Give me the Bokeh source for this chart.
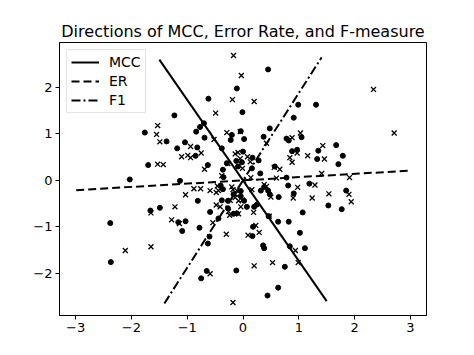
from bokeh.plotting import figure
from bokeh.models import Range1d, FixedTicker, Legend, LegendItem
from bokeh.embed import file_html
from bokeh.resources import INLINE

# ---- data ----
dots_x = [-1.23, -1.76, -1.37, -1.18, -1.70, -2.03, -1.13, 0.45, -0.11, -0.62,
          -0.01, 1.31, 0.99, 0.91, -0.70, -0.77, -0.84, 0.48, 0.37, -0.20,
          -0.69, -0.22, 0.02, 0.78, 0.82, 1.05, -1.04, -0.82, -0.85, -0.38,
          0.00, 0.17, 0.88, 0.97, 1.35, 1.67, 1.33, 1.79, 1.71, -0.12,
          -0.02, 0.28, -0.29, -0.63, 0.57, 0.16, 0.31, 0.78, -0.35, -0.09,
          0.81, 1.19, 0.32, 0.45, 1.85, 1.53, 1.77, 0.64, 0.91, 1.07,
          0.20, 0.25, 0.63, 0.82, 0.18, 0.17, 1.02, 0.36, 0.38, 0.84,
          1.11, 0.75, 0.63, 0.44, 0.02, -0.36, -0.81, -0.27, -0.38, -0.17,
          -0.11, -0.59, 0.46, -1.03, -1.09, -0.78, -0.60, -0.63, -0.12, -0.65,
          -0.75, -1.49, -1.66, -2.38, -2.37, -1.16, 0.07, -0.44, -0.04, -0.04,
          0.38, 0.48, -0.40, -0.17, -0.27, -0.04, -0.36]
dots_y = [1.40, 1.03, 0.84, 0.69, 0.33, 0.02, -0.01, 2.39, 1.98, 1.76,
          1.47, 1.63, 1.63, 1.35, 1.23, 1.15, 1.05, 1.12, 0.94, 0.98,
          0.92, 0.87, 0.89, 0.90, 0.86, 0.93, 0.82, 0.71, 0.53, 0.69,
          0.62, 0.49, 0.63, 0.66, 0.64, 0.76, 0.46, 0.53, 0.35, 0.42,
          0.39, 0.43, 0.37, 0.33, 0.30, 0.26, 0.15, 0.06, 0.07, 0.30,
          -0.11, -0.07, -0.22, -0.22, -0.22, -0.54, -0.62, -0.36, -0.28, -0.69,
          -0.57, -0.52, -0.89, -0.89, -1.00, -1.20, -1.13, -1.40, -1.46, -1.42,
          -1.46, -1.86, -2.31, -2.48, -0.44, -0.19, -0.44, -0.44, -0.43, -0.72,
          -0.71, -0.68, -0.77, -0.88, -1.09, -1.02, -1.21, -1.36, -1.94, -1.95,
          -2.11, -0.59, -0.65, -0.92, -1.76, -0.90, -0.57, -0.82, -0.23, -0.34,
          -0.14, -0.30, -0.11, -0.30, -0.60, 1.06, 0.23]

cross_x = [-0.17, -0.03, -0.19, 0.20, -0.49, 2.34, 2.71, -1.53, -1.55, -1.49,
           -1.10, -1.53, -1.43, -0.29, -0.05, -0.52, 0.42, 0.88, 1.03, 1.43,
           1.16, 0.97, 0.84, 0.88, 1.46, 0.66, 1.41, 1.91, 0.60, -0.94,
           -0.75, -0.99, -0.14, -0.09, 0.08, 0.13, -0.01, -0.69, 0.56, -0.38,
           1.54, 1.90, 1.94, 0.50, 0.90, 1.24, 0.98, 1.29, 0.38, 0.42,
           0.19, 0.47, 0.23, 0.29, 0.09, 0.94, 0.20, 0.53, 0.99, -1.03,
           -0.88, -0.76, -0.59, -0.48, -0.46, -0.18, -0.11, -0.14, -0.08, -0.48,
           -0.26, -0.24, -0.04, -0.01, -0.54, -0.30, -0.59, -0.18, -1.22, -1.28,
           -1.14, -1.65, -2.11, -1.65, -0.44, -0.20, -0.14, -0.23, 0.16, -0.41,
           -0.08, -0.27, 0.14, -0.94, -0.05, 0.01]
cross_y = [2.69, 2.26, 1.74, 1.70, 1.45, 1.96, 1.02, 1.18, 0.99, 0.83,
           0.51, 0.35, 0.34, 1.03, 1.05, 0.88, 0.80, 0.92, 1.02, 0.75,
           0.53, 0.59, 0.49, 0.39, 0.46, 0.24, 0.15, 0.06, 0.05, 0.73,
           0.59, 0.54, 0.57, 0.60, 0.51, 0.40, 0.26, 0.24, 0.28, 0.10,
           -0.29, -0.30, -0.46, -0.36, -0.38, -0.38, -0.15, -0.10, -0.09, -0.13,
           -0.69, -0.77, -0.97, -1.12, -1.18, -1.51, -1.84, -1.77, -1.77, -0.31,
           -0.18, -0.18, -0.22, -0.26, -0.12, -0.20, -0.22, -0.37, -0.44, -0.53,
           -0.67, -0.75, -0.57, -0.42, -0.91, -1.16, -2.01, -2.63, -0.57, -0.85,
           -0.93, -0.70, -1.51, -1.43, -0.22, -0.14, -0.30, -0.43, -0.20, -0.57,
           -0.72, 0.36, 0.06, 0.49, 0.47, 0.00]

mcc_x = [-1.50, 1.50]
mcc_y = [2.60, -2.60]
er_x = [-2.99, 2.99]
er_y = [-0.21, 0.21]
f1_x = [-1.41, 1.41]
f1_y = [-2.65, 2.65]

x_ticks = [-3, -2, -1, 0, 1, 2, 3]
x_tick_labels = ["\u22123", "\u22122", "\u22121", "0", "1", "2", "3"]
y_ticks = [-2, -1, 0, 1, 2]
y_tick_labels = ["\u22122", "\u22121", "0", "1", "2"]

title_text = "Directions of MCC, Error Rate, and F-measure"

# ---- figure ----
FONT = "DejaVu Sans"
p = figure(width=474, height=355, output_backend="svg", toolbar_location=None,
           x_range=Range1d(-3.29, 3.29), y_range=Range1d(-2.91, 2.97),
           min_border_left=59, min_border_right=48, min_border_top=42,
           min_border_bottom=40)
p.title.text = title_text
p.title.text_font = FONT
p.title.text_font_size = "16px"
p.title.text_font_style = "normal"
p.title.text_color = "black"
p.title.align = "center"
p.title.standoff = 4

p.grid.visible = False
p.outline_line_color = "black"
p.outline_line_width = 1
p.background_fill_color = "white"
p.border_fill_color = "white"

for ax, ticks, labels in ((p.xaxis[0], x_ticks, x_tick_labels),
                          (p.yaxis[0], y_ticks, y_tick_labels)):
    ax.ticker = FixedTicker(ticks=ticks)
    ax.major_label_overrides = {t: l for t, l in zip(ticks, labels)}
    ax.major_label_text_font = FONT
    ax.major_label_text_font_size = "13px"
    ax.major_label_text_color = "black"
    ax.major_tick_out = 4
    ax.major_tick_in = 0
    ax.minor_tick_out = 0
    ax.minor_tick_in = 0
    ax.axis_line_color = "black"
    ax.major_tick_line_color = "black"
    ax.major_label_standoff = 3

p.scatter(dots_x, dots_y, marker="circle", size=5, color="black")
p.scatter(cross_x, cross_y, marker="x", size=7, line_color="black", line_width=1.3)

r_mcc = p.line(mcc_x, mcc_y, line_color="black", line_width=2)
r_er = p.line(er_x, er_y, line_color="black", line_width=2, line_dash="8 4")
r_f1 = p.line(f1_x, f1_y, line_color="black", line_width=2, line_dash="9 3 2 3")

legend = Legend(items=[LegendItem(label="MCC", renderers=[r_mcc]),
                       LegendItem(label="ER", renderers=[r_er]),
                       LegendItem(label="F1", renderers=[r_f1])],
                location="top_left")
legend.border_line_color = "#cccccc"
legend.border_line_width = 1
legend.background_fill_alpha = 0.8
legend.label_text_font = FONT
legend.label_text_font_size = "14px"
legend.label_text_color = "black"
legend.margin = 7
legend.padding = 4
legend.spacing = 3
legend.glyph_width = 28
legend.glyph_height = 16
legend.label_height = 16
legend.label_standoff = 10
p.add_layout(legend)

open("out.html", "w").write(file_html(p, INLINE))
